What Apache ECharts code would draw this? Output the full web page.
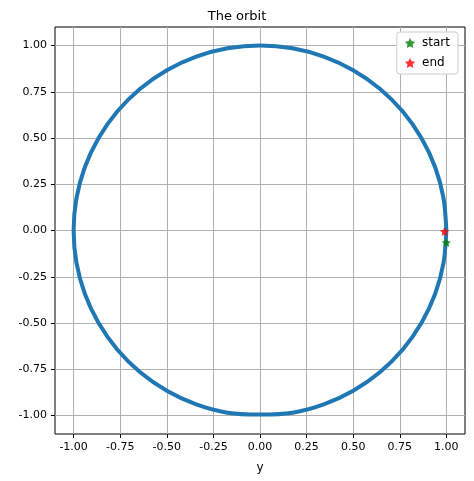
<!DOCTYPE html>
<html>
<head>
<meta charset="utf-8">
<script src="https://cdn.jsdelivr.net/npm/echarts@6/dist/echarts.min.js"></script>
<style>html,body{margin:0;padding:0;background:#fff}#main{width:474px;height:481px}</style>
</head>
<body>
<div id="main"></div>
<script>
// orbit samples (x, y)
var orbitX = [1.0, 0.985, 0.940, 0.866, 0.766, 0.643, 0.5, 0.342, 0.174, 0.0,
  -0.174, -0.342, -0.5, -0.643, -0.766, -0.866, -0.940, -0.985, -1.0,
  -0.985, -0.940, -0.866, -0.766, -0.643, -0.5, -0.342, -0.174, 0.0,
  0.174, 0.342, 0.5, 0.643, 0.766, 0.866, 0.940, 0.985, 1.0];
var orbitY = [0.0, 0.174, 0.342, 0.5, 0.643, 0.766, 0.866, 0.940, 0.985, 1.0,
  0.985, 0.940, 0.866, 0.766, 0.643, 0.5, 0.342, 0.174, 0.0,
  -0.174, -0.342, -0.5, -0.643, -0.766, -0.866, -0.940, -0.985, -0.995,
  -0.985, -0.940, -0.866, -0.766, -0.643, -0.5, -0.342, -0.174, 0.0];
var startPt = [1.0, -0.065];
var endPt = [0.99, -0.005];
var tickVals = [-1.0, -0.75, -0.5, -0.25, 0.0, 0.25, 0.5, 0.75, 1.0];

var orbit = orbitX.map(function (x, i) { return [x, orbitY[i]]; });
var myChart = echarts.init(document.getElementById('main'));
var fontTxt = 'DejaVu Sans';
var star = 'path://M0,-10L2.9,-4L9.5,-3.1L4.7,1.5L5.9,8.1L0,5L-5.9,8.1L-4.7,1.5L-9.5,-3.1L-2.9,-4Z';
function axisCfg(name) {
  return {
    type: 'value', min: -1.1, max: 1.1,
    name: name, nameLocation: 'middle', nameGap: 28,
    nameTextStyle: {color: '#000', fontSize: 12, fontFamily: fontTxt},
    axisLine: {show: false, onZero: false},
    axisTick: {show: true, length: 4, inside: false, customValues: tickVals, lineStyle: {color: '#000'}},
    axisLabel: {color: '#000', fontSize: 11, fontFamily: fontTxt, customValues: tickVals,
      formatter: function (v) { return v.toFixed(2); }},
    splitLine: {show: true, lineStyle: {color: '#b0b0b0', width: 1}, customValues: tickVals}
  };
}
var option = {
  animation: false,
  title: {text: 'The orbit', left: 'center', top: 5, textStyle: {fontSize: 13, fontWeight: 'normal', color: '#000', fontFamily: fontTxt}},
  grid: {left: 55, right: 9, top: 27, bottom: 47, show: true, borderColor: '#000', borderWidth: 1},
  xAxis: axisCfg('y'),
  yAxis: axisCfg(''),
  legend: {
    right: 16, top: 32, orient: 'vertical', itemWidth: 14, itemHeight: 10,
    backgroundColor: '#fff', borderColor: '#ccc', borderWidth: 1, borderRadius: 3, padding: [5, 8],
    textStyle: {fontSize: 12, fontFamily: fontTxt, color: '#000'},
    data: [{name: 'start', icon: star}, {name: 'end', icon: star}]
  },
  series: [
    {type: 'line', name: 'orbit', data: orbit, smooth: 0.3, showSymbol: false,
      lineStyle: {color: '#1f77b4', width: 4}, z: 2},
    {type: 'scatter', name: 'start', data: [startPt], symbolSize: 9, symbol: star,
      itemStyle: {color: 'green'}, z: 3},
    {type: 'scatter', name: 'end', data: [endPt], symbolSize: 9, symbol: star,
      itemStyle: {color: 'red'}, z: 4}
  ]
};
myChart.setOption(option);
</script>
</body>
</html>
